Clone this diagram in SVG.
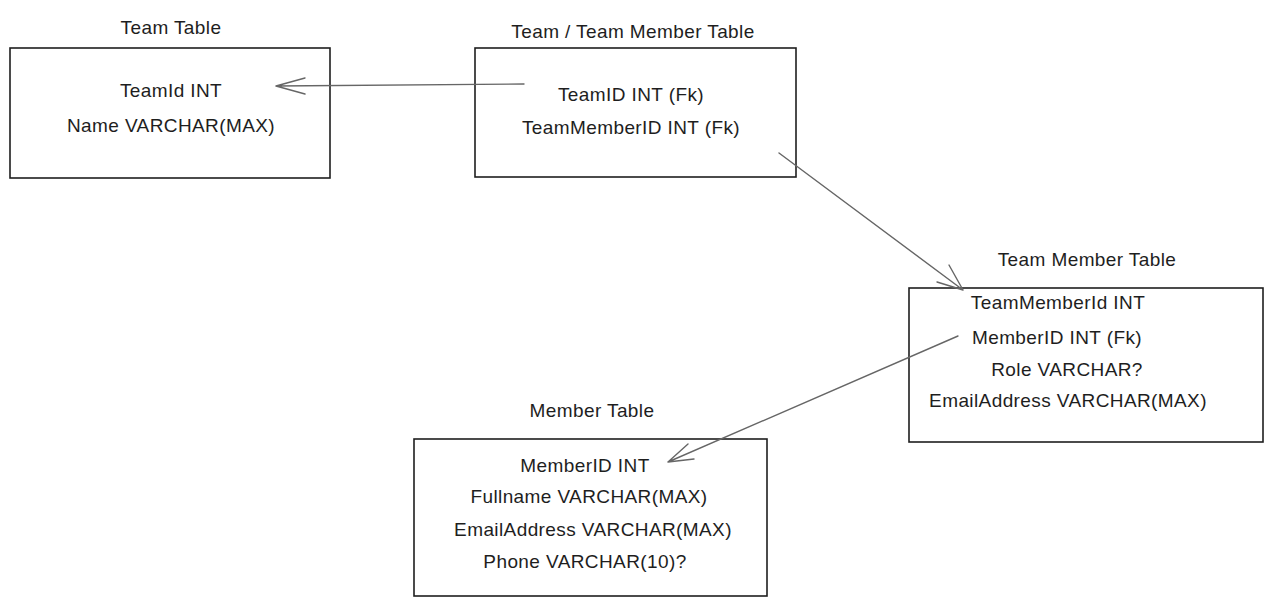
<svg xmlns="http://www.w3.org/2000/svg" width="1271" height="606" viewBox="0 0 1271 606">
<style>
.box{fill:#fff;stroke:#1e1e1e;stroke-width:1.6}
.t{font-family:"Liberation Sans",Arial,sans-serif;font-size:19px;letter-spacing:0.4px;fill:#1e1e1e;text-anchor:middle}
.c{fill:none;stroke:#666;stroke-width:1.4;stroke-linecap:round}
</style>
<rect width="1271" height="606" fill="#fff"/>
<g id="team">
<rect class="box" x="10" y="48" width="320" height="130"/>
<text class="t" x="171" y="34">Team Table</text>
<text class="t" x="171" y="97">TeamId INT</text>
<text class="t" x="171" y="132">Name VARCHAR(MAX)</text>
</g>
<g id="teamTeamMember">
<rect class="box" x="475" y="48" width="321" height="129"/>
<text class="t" x="633" y="38">Team / Team Member Table</text>
<text class="t" x="631" y="101">TeamID INT (Fk)</text>
<text class="t" x="631" y="134">TeamMemberID INT (Fk)</text>
</g>
<g id="teamMember">
<rect class="box" x="909" y="288" width="354" height="154"/>
<text class="t" x="1087" y="266">Team Member Table</text>
<text class="t" x="1058" y="309">TeamMemberId INT</text>
<text class="t" x="1057" y="344">MemberID INT (Fk)</text>
<text class="t" x="1067" y="376">Role VARCHAR?</text>
<text class="t" x="1068" y="407">EmailAddress VARCHAR(MAX)</text>
</g>
<g id="member">
<rect class="box" x="414" y="439" width="353" height="157"/>
<text class="t" x="592" y="417">Member Table</text>
<text class="t" x="585" y="472">MemberID INT</text>
<text class="t" x="589" y="503">Fullname VARCHAR(MAX)</text>
<text class="t" x="593" y="536">EmailAddress VARCHAR(MAX)</text>
<text class="t" x="585" y="568">Phone VARCHAR(10)?</text>
</g>
<g id="connectors">
<path class="c" d="M524 84 L276 86 M276 86 L305 78 M276 86 L305 94"/>
<path class="c" d="M779 153 L963 290 M963 290 L949 265 M963 290 L937 282"/>
<path class="c" d="M958 336 L668 462 M668 462 L688 444 M668 462 L694 459"/>
</g>
</svg>
